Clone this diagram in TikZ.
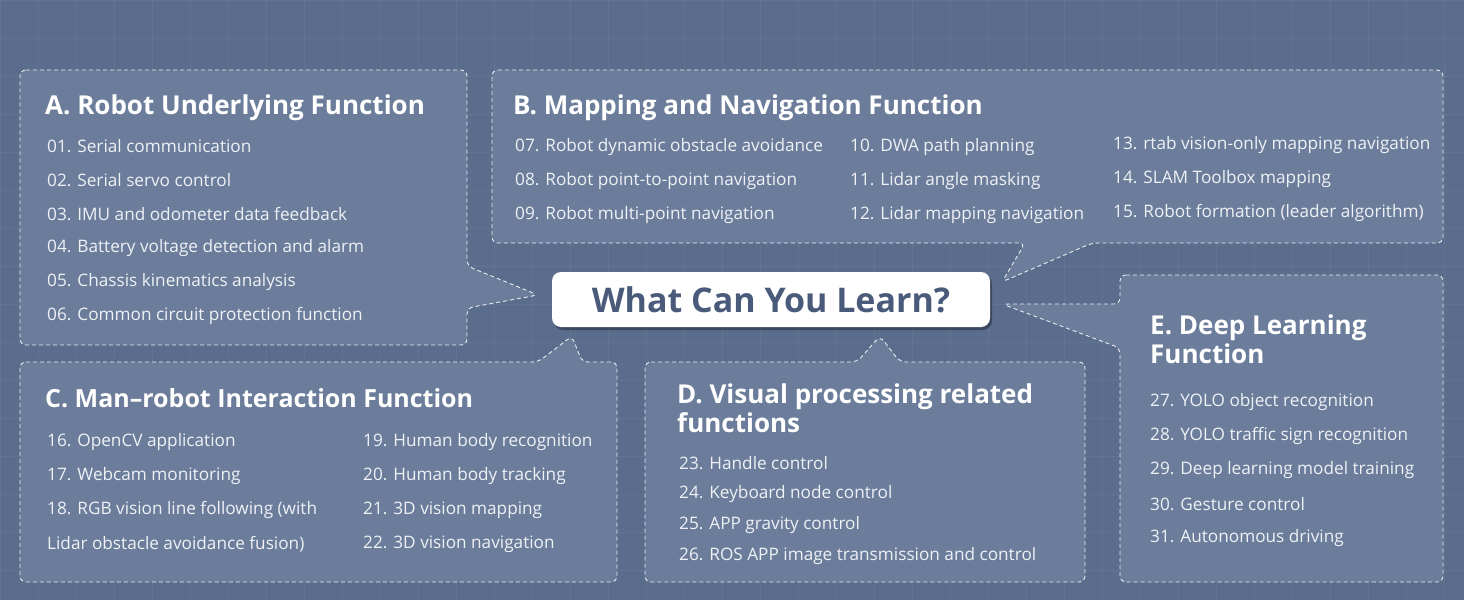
\documentclass[tikz,border=0pt]{standalone}
\usepackage{fontspec}
\setmainfont{Open Sans}
\begin{document}
\definecolor{bg}{HTML}{5A6D8C}
\definecolor{boxc}{HTML}{6B7D9A}
\definecolor{itemc}{HTML}{EEF1F6}
\definecolor{titc}{HTML}{4A5A7A}
\begin{tikzpicture}[x=1pt,y=-1pt,
  bub/.style={fill=boxc,draw=white!85!boxc,dashed,dash pattern=on 4pt off 3pt,line width=0.9pt,rounded corners=6pt},
  tit/.style={anchor=west,text=white,font=\fontsize{26}{29}\selectfont\bfseries,align=left,inner sep=0pt},
  it/.style={anchor=west,text=itemc,font=\fontsize{17.2}{20}\selectfont,inner sep=0pt}]
\useasboundingbox (0,0) rectangle (1464,600);
\fill[bg] (0,0) rectangle (1464,600);
\foreach \x in {0,38,...,1464} \draw[white,opacity=0.05] (\x,0) -- (\x,600);
\foreach \y in {0,38,...,600} \draw[white,opacity=0.05] (0,\y) -- (1464,\y);
% bubbles
\draw[bub] (20,70) -- (467,70) -- (467,266) -- (538,295) -- (467,308) -- (467,345) -- (20,345) -- cycle;
\draw[bub] (492,70) -- (1443,70) -- (1443,243) -- (1092,243) -- (1002,282) -- (1025,243) -- (492,243) -- cycle;
\draw[bub] (1120,275) -- (1443,275) -- (1443,582) -- (1120,582) -- (1120,348) -- (1002,304) -- (1120,304) -- cycle;
\draw[bub] (20,362) -- (538,362) -- (572,336) -- (582,362) -- (617,362) -- (617,582) -- (20,582) -- cycle;
\draw[bub] (645,362) -- (857,362) -- (880,336) -- (900,362) -- (1085,362) -- (1085,582) -- (645,582) -- cycle;
% center
\fill[titc!80!black,rounded corners=9pt] (554,275) rectangle (992,330);
\node[fill=white,rounded corners=9pt,minimum width=438pt,minimum height=55pt,inner sep=0pt,
  text=titc,font=\fontsize{34}{36}\selectfont\bfseries] (center) at (771,299.5) {What Can You Learn?};
% titles
\node[tit] (ta) at (45,108) {A. Robot Underlying Function};
\node[tit] (tb) at (513,108) {B. Mapping and Navigation Function};
\node[tit,font=\fontsize{25}{29}\selectfont\bfseries] (tc) at (45,398) {C. Man–robot Interaction Function};
\node[tit] (td) at (677,408) {D. Visual processing related\\functions};
\node[tit] (te) at (1150,339) {E. Deep Learning\\Function};
% A
\node[it] (a1) at (47,146) {01. Serial communication};
\node[it] (a2) at (47,180) {02. Serial servo control};
\node[it] (a3) at (47,214) {03. IMU and odometer data feedback};
\node[it] (a4) at (47,248) {04. Battery voltage detection and alarm};
\node[it] (a5) at (47,282) {05. Chassis kinematics analysis};
\node[it] (a6) at (47,316) {06. Common circuit protection function};
% B
\node[it] (b7) at (515,147) {07. Robot dynamic obstacle avoidance};
\node[it] (b8) at (515,181) {08. Robot point-to-point navigation};
\node[it] (b9) at (515,215) {09. Robot multi-point navigation};
\node[it] (b10) at (850,147) {10. DWA path planning};
\node[it] (b11) at (850,181) {11. Lidar angle masking};
\node[it] (b12) at (850,215) {12. Lidar mapping navigation};
\node[it] (b13) at (1113,145) {13. rtab vision-only mapping navigation};
\node[it] (b14) at (1113,179) {14. SLAM Toolbox mapping};
\node[it] (b15) at (1113,213) {15. Robot formation (leader algorithm)};
% C
\node[it] (c16) at (47,442) {16. OpenCV application};
\node[it] (c17) at (47,476) {17. Webcam monitoring};
\node[it] (c18) at (47,510) {18. RGB vision line following (with};
\node[it] (c18b) at (47,544) {Lidar obstacle avoidance fusion)};
\node[it] (c19) at (363,442) {19. Human body recognition};
\node[it] (c20) at (363,476) {20. Human body tracking};
\node[it] (c21) at (363,510) {21. 3D vision mapping};
\node[it] (c22) at (363,544) {22. 3D vision navigation};
% D
\node[it] (d23) at (679,463) {23. Handle control};
\node[it] (d24) at (679,494) {24. Keyboard node control};
\node[it] (d25) at (679,525) {25. APP gravity control};
\node[it] (d26) at (679,556) {26. ROS APP image transmission and control};
% E
\node[it] (e27) at (1150,402) {27. YOLO object recognition};
\node[it] (e28) at (1150,436) {28. YOLO traffic sign recognition};
\node[it] (e29) at (1150,470) {29. Deep learning model training};
\node[it] (e30) at (1150,504) {30. Gesture control};
\node[it] (e31) at (1150,538) {31. Autonomous driving};
\end{tikzpicture}
\end{document}
